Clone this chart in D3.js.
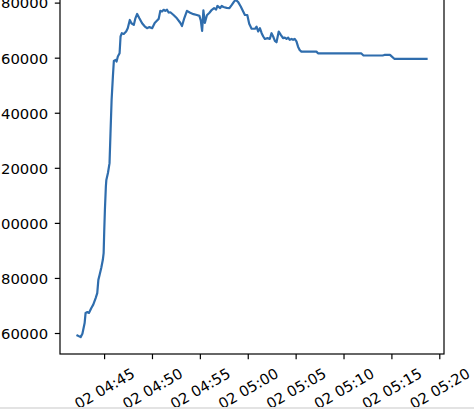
<!DOCTYPE html>
<html lang="en">
<head>
    <meta charset="UTF-8">
    <title>Line chart</title>
    <script src="https://d3js.org/d3.v7.min.js"></script>
    <style>
        body {
            margin: 0;
            background: #ffffff;
            overflow: hidden;
        }
        svg {
            display: block;
        }
        svg text {
            font-family: "DejaVu Sans", sans-serif;
        }
    </style>
</head>
<body>
    <svg id="chart" width="474" height="409"></svg>

    <script>
        // readings (day 02)
        const day = '2021-03-02';
        const times = [
            '04:42:10','04:42:30','04:42:41','04:42:55','04:43:01','04:43:12','04:43:22','04:43:37','04:43:49','04:44:04',
            '04:44:14','04:44:21','04:44:29','04:44:39','04:44:49','04:44:54','04:44:58','04:45:02','04:45:08','04:45:11',
            '04:45:21','04:45:31','04:45:37','04:45:44','04:45:52','04:45:58','04:46:09','04:46:15','04:46:23','04:46:34',
            '04:46:40','04:46:48','04:47:00','04:47:15','04:47:25','04:47:38','04:47:48','04:48:03','04:48:13','04:48:24',
            '04:48:38','04:48:55','04:49:11','04:49:26','04:49:41','04:49:58','04:50:14','04:50:29','04:50:39','04:50:49',
            '04:51:00','04:51:10','04:51:20','04:51:31','04:51:41','04:51:52','04:52:12','04:52:33','04:52:54','04:53:05',
            '04:53:19','04:53:36','04:53:56','04:54:17','04:54:38','04:54:54','04:55:03','04:55:11','04:55:19','04:55:28',
            '04:55:41','04:55:57','04:56:12','04:56:26','04:56:39','04:56:47','04:57:04','04:57:14','04:57:24','04:57:45',
            '04:58:02','04:58:17','04:58:31','04:58:43','04:58:58','04:59:13','04:59:29','04:59:39','04:59:54','05:00:06',
            '05:00:21','05:00:42','05:00:52','05:01:02','05:01:13','05:01:24','05:01:34','05:01:44','05:02:01','05:02:15',
            '05:02:26','05:02:36','05:02:47','05:02:57','05:03:11','05:03:24','05:03:38','05:03:49','05:04:00','05:04:10',
            '05:04:20','05:04:31','05:04:41','05:04:51','05:05:02','05:05:12','05:05:22','05:05:33','05:07:07','05:07:17',
            '05:11:47','05:12:02','05:14:02','05:14:13','05:14:48','05:15:15','05:18:37'
        ];
        const values = [
            59100,58500,59700,63600,67300,67600,67300,69100,70300,72700,
            74500,79300,81200,83600,86600,89000,97500,104800,113200,115600,
            118100,121700,132600,144700,153100,158800,159200,158600,160400,161600,
            167700,168900,168600,169500,170700,173700,172500,171900,174300,175900,
            174300,172500,171400,170700,171100,170700,172600,173500,174100,177000,
            176800,177400,177000,177400,176400,176500,175500,174300,172700,171500,
            174300,177000,176300,175800,175500,175200,173400,169700,177200,172600,
            175400,176300,177400,178000,177500,178800,178000,178800,178400,178100,
            178000,179200,180400,181000,180100,178600,176700,175500,175500,172300,
            170500,170500,171300,169500,170700,168900,167700,166800,167100,166800,
            168900,167700,166100,165600,169500,168300,167100,167300,166800,167300,
            166500,166800,166500,166800,165900,164000,162800,162200,162200,161600,
            161600,160800,160800,161000,161000,159600,159600
        ];
        const yTicks = [60000, 80000, 100000, 120000, 140000, 160000, 180000];

        const parse = d3.timeParse('%Y-%m-%d %H:%M:%S');
        const data = times.map((t, i) => ({ t: parse(day + ' ' + t), v: values[i] }));

        // plot box (the picture is a crop: top spine sits above the window)
        const plotLeft = 60, plotRight = 444, plotTop = -17, plotBottom = 354;
        const fs = 14.8;
        const font = '"DejaVu Sans", sans-serif';
        const tickLen = 5.2, pad = 5.2;

        const svg = d3.select('#chart');

        // matplotlib-style 5% margins
        const tExt = d3.extent(data, d => d.t);
        const tPad = (tExt[1] - tExt[0]) * 0.05;
        const x = d3.scaleTime()
            .domain([new Date(+tExt[0] - tPad), new Date(+tExt[1] + tPad)])
            .range([plotLeft, plotRight]);

        const vExt = d3.extent(data, d => d.v);
        const vPad = (vExt[1] - vExt[0]) * 0.05;
        const y = d3.scaleLinear()
            .domain([vExt[0] - vPad, vExt[1] + vPad])
            .range([plotBottom, plotTop]);

        svg.append('rect')
            .attr('width', 474).attr('height', 409)
            .attr('fill', '#ffffff');

        // line
        const line = d3.line().x(d => x(d.t)).y(d => y(d.v));
        svg.append('path')
            .datum(data)
            .attr('d', line)
            .attr('fill', 'none')
            .attr('stroke', '#2f6dad')
            .attr('stroke-width', 2.2)
            .attr('stroke-linejoin', 'round')
            .attr('stroke-linecap', 'square');

        // y axis
        const yAxis = svg.append('g')
            .attr('transform', `translate(${plotLeft},0)`)
            .call(d3.axisLeft(y).tickValues(yTicks).tickFormat(d3.format('d'))
                .tickSize(tickLen).tickPadding(pad + 1.5));
        yAxis.attr('font-family', font).attr('font-size', fs);
        yAxis.select('.domain').remove();
        yAxis.selectAll('.tick line').attr('stroke', '#000').attr('stroke-width', 1.2);
        yAxis.selectAll('.tick text')
            .attr('fill', '#000')
            .style('font-family', font)
            .style('font-size', fs + 'px')
            .attr('dy', '0.36em');

        // x axis, labels rotated 30deg and centred on the tick like matplotlib
        const xTickVals = x.ticks(d3.timeMinute.every(5));
        const fmt = d3.timeFormat('%d %H:%M');
        const xAxis = svg.append('g');
        xAxis.selectAll('line')
            .data(xTickVals)
            .join('line')
            .attr('x1', d => x(d)).attr('x2', d => x(d))
            .attr('y1', plotBottom).attr('y2', plotBottom + tickLen)
            .attr('stroke', '#000')
            .attr('stroke-width', 1.2);

        const labels = xAxis.selectAll('text')
            .data(xTickVals)
            .join('text')
            .text(d => fmt(d))
            .style('font-family', font)
            .style('font-size', fs + 'px')
            .attr('fill', '#000')
            .attr('text-anchor', 'middle')
            .attr('dy', '0.36em');

        const ang = 30 * Math.PI / 180;
        labels.each(function (d) {
            const w = this.getComputedTextLength();
            const h = fs * 1.17;
            const boxH = w * Math.sin(ang) + h * Math.cos(ang);
            const cy = plotBottom + tickLen + pad + boxH / 2;
            d3.select(this).attr('transform', `translate(${x(d)},${cy}) rotate(-30)`);
        });

        // spines
        svg.append('rect')
            .attr('x', plotLeft).attr('y', plotTop)
            .attr('width', plotRight - plotLeft).attr('height', plotBottom - plotTop)
            .attr('fill', 'none')
            .attr('stroke', '#000')
            .attr('stroke-width', 1.2);

        // strip along the bottom edge of the screenshot
        svg.append('rect')
            .attr('x', 0).attr('y', 407)
            .attr('width', 474).attr('height', 2)
            .attr('fill', '#e3e3e3');
    </script>
</body>
</html>
